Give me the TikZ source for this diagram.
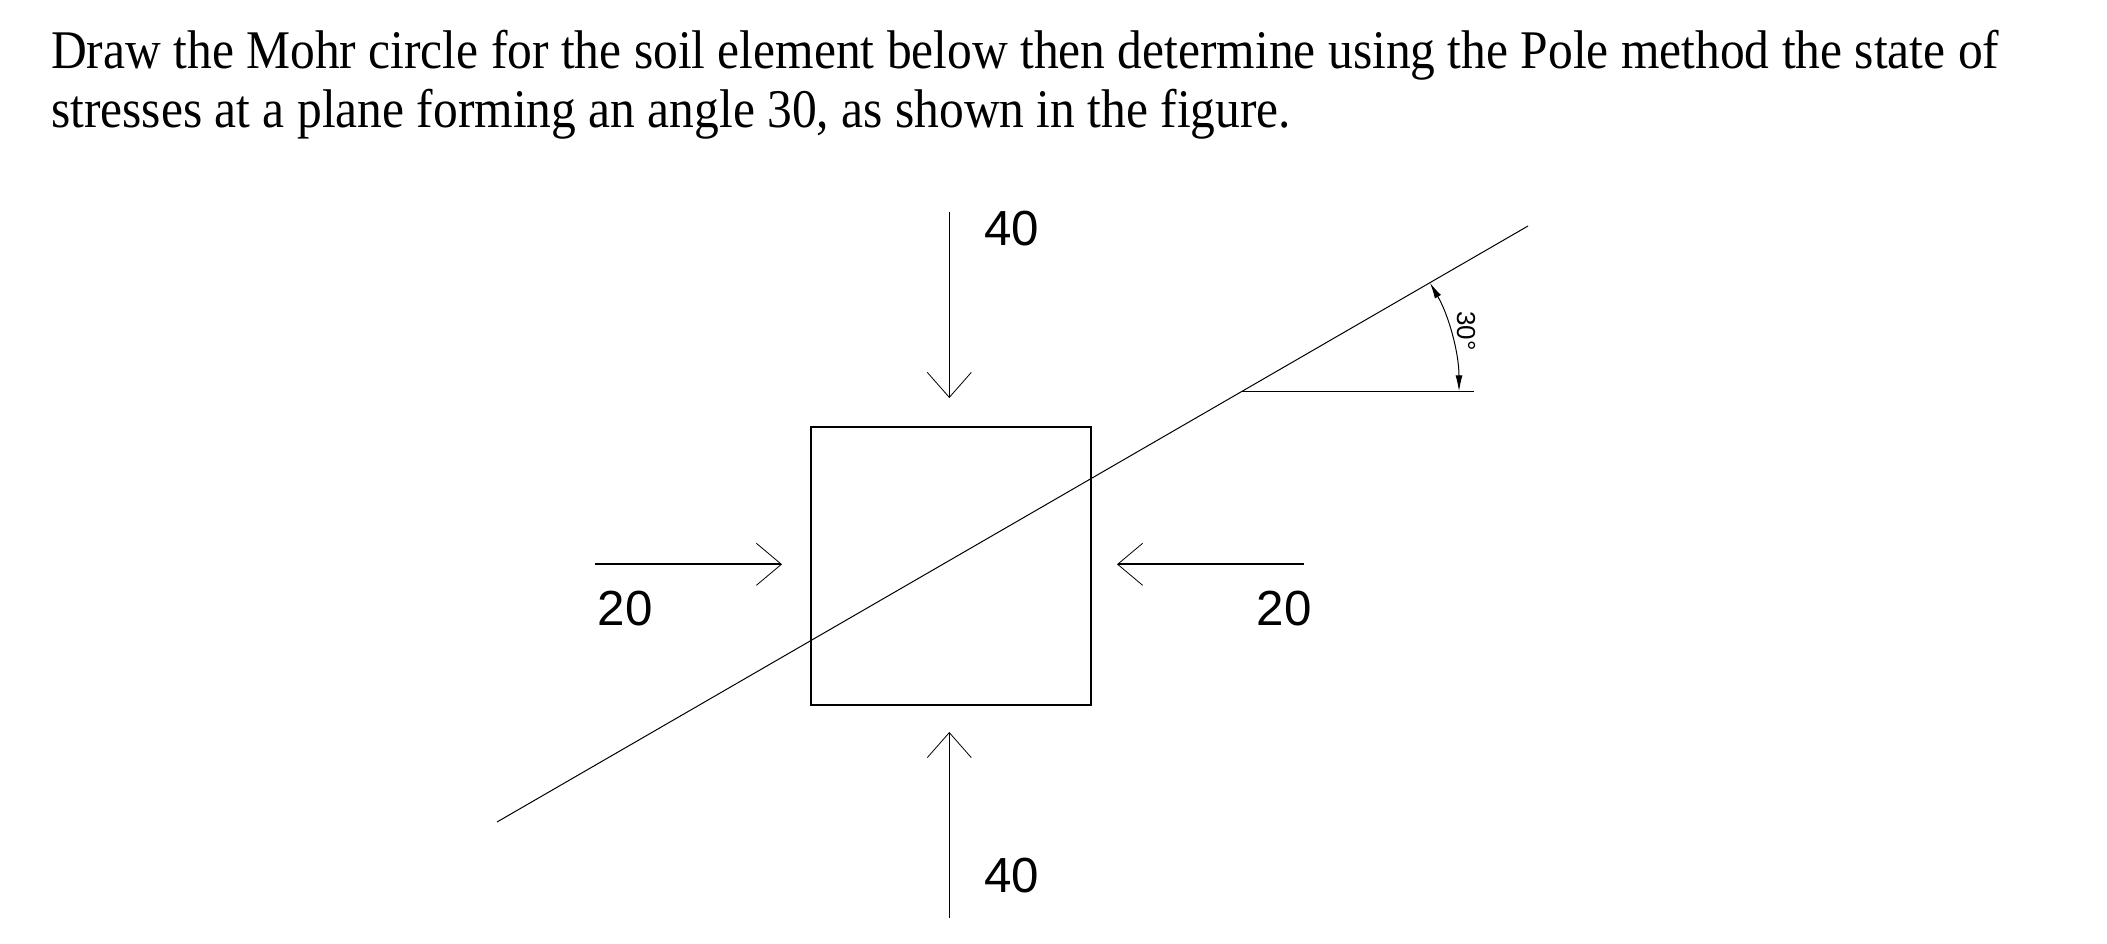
\documentclass[tikz,border=0pt]{standalone}
\usepackage{fontspec}
\setmainfont{Liberation Serif}
\newfontfamily\labelfont{Liberation Sans}
\usetikzlibrary{arrows.meta,calc}
\begin{document}
\begin{tikzpicture}[x=1pt,y=-1pt,
  titletext/.style={anchor=base west,inner sep=0pt,font=\fontsize{49.5}{56.8}\selectfont},
  loadlabel/.style={anchor=base west,inner sep=0pt,font=\labelfont\fontsize{49.3}{50}\selectfont},
  elembox/.style={draw,line width=1.6pt,minimum width=280pt,minimum height=278pt,inner sep=0pt,anchor=north west},
  vload/.style={line width=1pt,-{Straight Barb[length=25pt,width=44pt,line width=0.8pt]}},
  hload/.style={line width=1.7pt,-{Straight Barb[length=25pt,width=42pt,line width=0.8pt]}},
  planeline/.style={line width=1pt},
  dimarrow/.style={line width=1pt,{Latex[length=16pt,width=7pt]}-{Latex[length=16pt,width=7pt]}}]
\useasboundingbox (0,0) rectangle (2107,944);
\fill[white] (0,0) rectangle (2107,944);
% title
\node[titletext] (t1) at (51,69) {\scalebox{1}[1.1]{Draw the Mohr circle for the soil element below then determine using the Pole method the state of}};
\node[titletext] (t2) at (51,128) {\scalebox{1}[1.1]{stresses at a plane forming an angle 30, as shown in the figure.}};
% soil element
\node[elembox] (elem) at (810,426) {};
% vertical loads
\coordinate (topS) at (949.3,212);
\coordinate (topT) at (949.3,398);
\coordinate (botS) at (949.3,918);
\coordinate (botT) at (949.3,732);
\draw[vload] (topS) -- (topT);
\draw[vload] (botS) -- (botT);
% horizontal loads
\coordinate (lS) at (595,564.3);
\coordinate (lT) at (782,564.3);
\coordinate (rS) at (1304,564.3);
\coordinate (rT) at (1117,564.3);
\draw[hload] (lS) -- (lT);
\draw[hload] (rS) -- (rT);
% labels
\node[loadlabel] (ltop) at (984,246) {40};
\node[loadlabel] (lbot) at (984,892) {40};
\node[loadlabel] (lleft) at (597.5,625) {20};
\node[loadlabel] (lright) at (1256.5,625) {20};
% inclined plane
\coordinate (pA) at (497,822);
\coordinate (pB) at (1528,226);
\draw[planeline] (pA) -- (pB);
\coordinate (pO) at (1242,391.3);
\coordinate (hE) at (1474,391.3);
\draw[planeline] (pO) -- (hE);
\coordinate (arcS) at ($(pO)+(217,0)$);
\draw[dimarrow] (arcS) arc[start angle=0,end angle=-30,radius=217];
\node[rotate=-90,inner sep=0pt,font=\labelfont\fontsize{26}{26}\selectfont] (ang) at (1466,331) {30°};
\end{tikzpicture}
\end{document}
